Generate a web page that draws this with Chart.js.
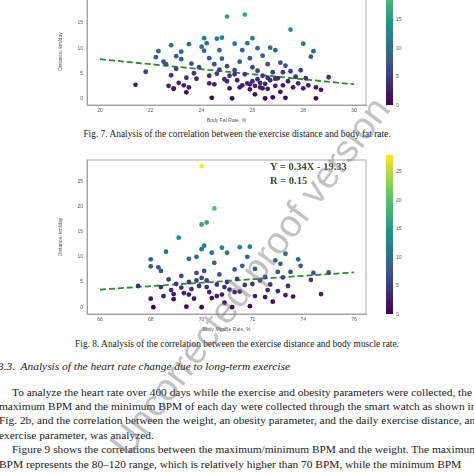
<!DOCTYPE html>
<html><head><meta charset="utf-8">
<script src="https://cdn.jsdelivr.net/npm/chart.js@4.4.0/dist/chart.umd.min.js"></script>
<style>
html,body{margin:0;padding:0;background:#fff;width:474px;height:474px;overflow:hidden;position:relative;font-family:"Liberation Serif",serif;}
.abs{position:absolute;}
.cb{position:absolute;left:386px;width:7px;background:linear-gradient(to top,#440154,#3b528b 25%,#21918c 50%,#5ec962 75%,#fde725);}
.cbt{position:absolute;left:396px;font:5px "Liberation Sans",sans-serif;color:#555;transform:translateY(-50%);}
.cap{position:absolute;left:0;width:474px;text-align:center;font-size:9.4px;color:#222;white-space:nowrap;}
.txt{position:absolute;left:0;white-space:nowrap;font-size:11.4px;color:#1a1a1a;}
</style></head><body>
<div class="abs" style="left:57px;top:-7px;width:313px;height:132px"><canvas id="c1"></canvas></div>
<div class="abs" style="left:57px;top:155px;width:313px;height:179px"><canvas id="c2"></canvas></div>
<div class="cb" style="top:-54.5px;height:159.5px"></div>
<div class="cb" style="top:155px;height:159px"></div>
<div id="cbt"></div>
<div class="abs" style="left:270px;top:160px;font-weight:bold;font-size:10.5px;color:#3d4a2c;line-height:14px">Y = 0.34X - 19.33<br>R = 0.15</div>
<div class="cap" style="top:129px">Fig. 7. Analysis of the correlation between the exercise distance and body fat rate.</div>
<div class="cap" style="top:339px">Fig. 8. Analysis of the correlation between the exercise distance and body muscle rate.</div>
<div class="txt" style="top:360px;font-style:italic;left:-2px">3.3.&nbsp; Analysis of the heart rate change due to long-term exercise</div>
<div class="txt" style="top:386px;left:12px">To analyze the heart rate over 400 days while the exercise and obesity parameters were collected, the</div>
<div class="txt" style="top:400px;left:-1px">maximum BPM and the minimum BPM of each day were collected through the smart watch as shown in</div>
<div class="txt" style="top:414px;left:-1px">Fig. 2b, and the correlation between the weight, an obesity parameter, and the daily exercise distance, an</div>
<div class="txt" style="top:429px;left:-1px">exercise parameter, was analyzed.</div>
<div class="txt" style="top:443px;left:12px">Figure 9 shows the correlations between the maximum/minimum BPM and the weight. The maximum</div>
<div class="txt" style="top:458px;left:-1px">BPM represents the 80–120 range, which is relatively higher than 70 BPM, while the minimum BPM</div>
<div class="txt" style="top:472px;left:-1px">represents the 40–60 range, which is relatively lower than 70 BPM. Linear regression analysis was</div>
<div class="abs" style="left:30px;top:255px;width:440px;text-align:center;font-family:'Liberation Sans',sans-serif;font-size:38px;color:rgba(120,120,120,0.45);transform:rotate(-53deg);transform-origin:center;white-space:nowrap">Uncorrected proof version</div>
<script>
const fatX=[21.4,21.8,22.2,22.3,22.5,22.6,22.8,22.8,22.9,22.9,22.7,23.0,23.0,23.1,23.2,23.2,23.3,23.4,23.4,23.5,23.5,23.6,23.7,23.8,23.9,24.0,24.1,24.1,24.2,24.3,24.3,24.3,24.4,24.5,24.5,24.6,24.7,24.7,24.8,24.8,24.9,25.0,25.0,25.1,25.1,25.2,25.3,25.3,25.4,25.5,25.5,25.6,25.7,25.7,25.8,25.8,25.9,25.9,26.0,26.0,26.0,26.1,26.1,26.2,26.2,26.3,26.3,26.4,26.4,26.5,26.5,26.6,26.6,26.7,26.7,26.8,26.8,26.9,26.9,27.0,27.1,27.1,27.2,27.3,27.3,27.4,27.5,27.5,27.6,27.7,27.8,27.9,28.0,28.0,28.1,28.2,28.3,28.4,28.5,28.5,28.7,29.0,25.9,26.2,25.6,26.6,25.3,24.6,26.9,27.2,25.0,26.4];
const fatY=[2.7,5.3,8.2,9.4,7.3,6.8,10.6,4.6,2.0,1.9,2.5,5.9,8.4,3.1,9.3,7.8,2.6,1.2,4.1,10.8,2.2,6.9,5.0,3.9,6.2,10.3,12.0,9.5,11.0,8.0,4.5,3.0,0.1,6.8,2.8,11.9,9.6,5.7,12.1,7.9,3.8,16.3,6.4,4.5,2.0,0.0,10.9,5.6,3.6,7.3,2.2,9.6,16.7,4.8,11.0,3.0,8.0,1.8,12.0,6.2,3.4,2.5,0.8,10.0,5.5,3.1,2.2,8.5,4.5,0.0,2.9,6.8,1.9,10.1,3.6,5.2,0.2,9.6,2.5,4.0,7.1,1.3,2.6,6.5,0.1,3.4,13.7,5.4,2.2,4.3,3.0,5.6,10.9,2.0,4.0,2.6,8.3,9.4,0.0,2.2,1.7,4.2,2.8,3.8,2.6,4.1,4.8,4.9,3.9,5.2,3.4,2.0];
const musX=[67.5,68.0,68.0,68.3,68.4,68.6,68.0,68.1,68.4,68.5,68.7,68.8,68.9,69.0,69.1,69.2,69.3,69.4,69.5,69.5,69.6,69.7,69.8,69.8,69.9,70.0,70.0,70.0,70.0,70.1,70.1,70.2,70.2,70.3,70.4,70.4,70.5,70.5,70.6,70.7,70.8,70.8,70.9,71.0,71.0,71.1,71.2,71.3,71.4,71.5,71.5,71.6,71.7,71.8,71.9,71.9,72.0,72.1,72.1,72.3,72.5,72.6,72.7,72.8,72.9,73.0,73.1,73.2,73.3,73.3,73.4,73.5,73.6,73.8,73.9,74.3,74.4,74.7,75.0,69.5,70.2,70.6,69.8,70.9,71.3,69.2,70.0,68.9,72.5,73.0];
const musY=[4.2,9.5,8.1,7.9,7.2,11.0,1.7,0.0,4.0,2.2,5.5,3.4,1.6,4.6,13.8,6.2,2.8,0.1,9.6,5.0,3.6,1.7,10.0,6.8,4.2,28.0,16.4,11.5,0.0,12.2,7.2,16.8,5.3,3.0,10.8,1.8,19.6,8.8,4.5,6.5,11.8,2.5,0.9,10.8,5.0,3.5,0.0,7.5,5.6,11.9,3.1,8.2,4.4,10.0,12.0,0.2,4.6,7.6,2.2,5.3,6.0,3.4,4.5,1.1,9.3,7.0,8.6,5.9,10.6,2.4,4.2,7.0,2.1,9.5,8.2,5.4,6.8,2.6,6.9,2.5,4.0,2.2,5.3,4.0,3.0,3.9,5.8,2.6,2.0,3.2];
const fatTrendX=[20,30], fatTrendY=[7.8,2.8];
const musTrendX=[66,76], musTrendY=[3.5,6.9];
const fatXTicks=[20,22,24,26,28,30], musXTicks=[66,68,70,72,74,76], yTicks1=[0,5,10,15], yTicks2=[0,5,10,15,20,25];
const cb1Ticks=[0,5,10,15], cb2Ticks=[0,5,10,15,20,25];

const vir=[[68,1,84],[59,82,139],[33,145,140],[94,201,98],[253,231,37]];
function viridis(t){t=Math.max(0,Math.min(1,t));const s=t*4,i=Math.min(3,Math.floor(s)),f=s-i;const a=vir[i],b=vir[i+1];
 return `rgb(${a.map((v,k)=>Math.round(v+(b[k]-v)*f)).join(',')})`;}
const tickFont={size:5,family:'Liberation Sans'};
function mk(id,xs,ys,tx,ty,xmin,xmax,ymin,ymax,xt,yt,xlabel,cmax){
 const pts=xs.map((x,i)=>({x,y:ys[i]}));
 new Chart(document.getElementById(id),{type:'scatter',data:{datasets:[
  {data:pts,pointRadius:2.4,pointBorderWidth:0,backgroundColor:ys.map(v=>viridis(v/cmax))},
  {type:'line',data:tx.map((x,i)=>({x,y:ty[i]})),borderColor:'#2f8a2f',borderWidth:1.8,borderDash:[6,3],pointRadius:0,fill:false}
 ]},options:{responsive:true,maintainAspectRatio:false,animation:false,events:[],
  layout:{padding:{right:2,top:0}},
  plugins:{legend:{display:false},tooltip:{enabled:false}},
  scales:{
   x:{type:'linear',min:xmin,max:xmax,afterBuildTicks:a=>{a.ticks=xt.map(v=>({value:v}))},afterFit:a=>{a.height=20},
      grid:{display:false,drawTicks:true,tickLength:2},border:{color:'#999',width:1},
      ticks:{font:tickFont,color:'#555',padding:1},title:{display:true,text:xlabel,font:tickFont,color:'#555',padding:1}},
   y:{type:'linear',min:ymin,max:ymax,afterBuildTicks:a=>{a.ticks=yt.map(v=>({value:v}))},afterFit:a=>{a.width=30},
      grid:{display:false,tickLength:2},border:{color:'#999',width:1},
      ticks:{font:tickFont,color:'#555',padding:2},title:{display:true,text:'Distance, km/day',font:tickFont,color:'#555',padding:1}}
  }},
  plugins:[{id:'frame',afterDraw(c){const a=c.chartArea,g=c.ctx;g.save();g.strokeStyle='#aaa';g.lineWidth=1;g.strokeRect(a.left,a.top,a.right-a.left,a.bottom-a.top);g.restore();}}]
 });
}
mk('c1',fatX,fatY,fatTrendX,fatTrendY,19.49,30.47,-1.33,20,fatXTicks,yTicks1,'Body Fat Rate, %',27.8);
mk('c2',musX,musY,musTrendX,musTrendY,65.49,76.47,-1.35,29.2,musXTicks,yTicks2,'Body Muscle Rate, %',27.8);
const cbt=document.getElementById('cbt');
function cbl(ticks,top,bot,max){ticks.forEach(v=>{const d=document.createElement('div');d.className='cbt';d.textContent=v;d.style.top=(bot-(bot-top)*v/max)+'px';cbt.appendChild(d);});}
cbl(cb1Ticks,-54.5,105,27.8);cbl(cb2Ticks,155,314,27.8);
</script>
</body></html>
